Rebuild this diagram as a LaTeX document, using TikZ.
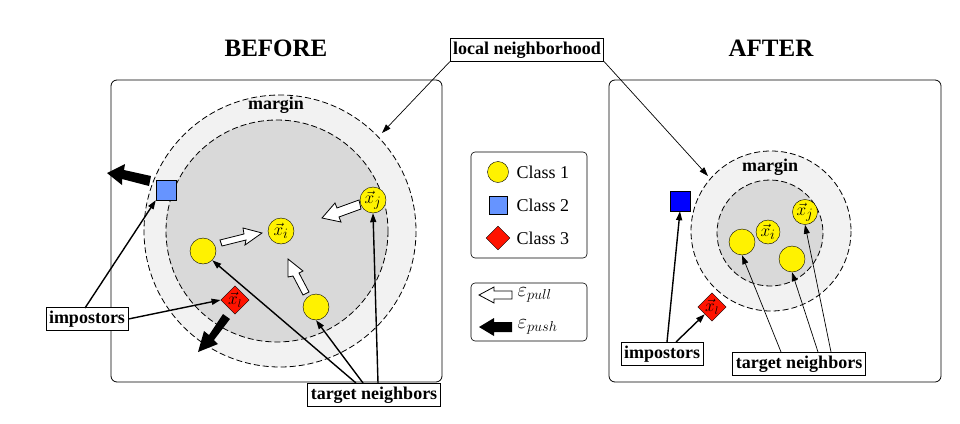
\documentclass[tikz,border=0pt]{standalone}
\usepackage{fontspec}
\setmainfont{Liberation Serif}
\usetikzlibrary{arrows.meta,shapes.geometric}
\begin{document}
\begin{tikzpicture}[x=1pt,y=-1pt,
 lbl/.style={draw,fill=white,font=\fontsize{18}{20}\selectfont\bfseries,inner sep=3pt,line width=0.8pt},
 pt/.style={circle,draw,fill=yellow,minimum size=26pt,inner sep=0pt,font=\fontsize{19}{20}\selectfont},
 sq/.style={draw,fill=blue!70!cyan!60!white,minimum size=20pt,inner sep=0pt},
 sqb/.style={draw,fill=blue,minimum size=20pt,inner sep=0pt},
 dia/.style={diamond,draw,fill=red!85!orange,minimum size=26pt,inner sep=0pt,font=\fontsize{16}{17}\selectfont},
 ptr/.style={-{Triangle[length=9pt,width=6pt]},line width=1.4pt},
 thin/.style={-{Triangle[length=9pt,width=6pt]},line width=0.7pt},
 pull/.style={draw,fill=white,line width=0.8pt},
 push/.style={fill=black},
 dsh/.style={dash pattern=on 6pt off 3pt,line width=0.8pt}]
\useasboundingbox (0,0) rectangle (960,423);
% titles
\node[font=\fontsize{25}{28}\selectfont\bfseries] (tb) at (276,48) {BEFORE};
\node[font=\fontsize{25}{28}\selectfont\bfseries] (ta) at (771,48) {AFTER};
% frames
\draw[rounded corners=6pt,line width=0.8pt] (111,80) rectangle (442,382);
\draw[rounded corners=6pt,line width=0.8pt] (609,80) rectangle (941,382);
% left circles
\draw[dsh,fill=gray!10] (280,231) circle (136);
\draw[dsh,fill=gray!30] (277,231) circle (111);
\node[font=\fontsize{18}{20}\selectfont\bfseries] (m1) at (276,105) {margin};
% right circles
\draw[dsh,fill=gray!10] (771,231) circle (80);
\draw[dsh,fill=gray!30] (770,233) circle (53);
\node[font=\fontsize{18}{20}\selectfont\bfseries] (m2) at (770,167) {margin};
% left points
\node[sq] (bq) at (166,190) {};
\node[pt] (xj) at (373,200) {$\vec{x}_j$};
\node[pt] (xi) at (281,231) {$\vec{x}_i$};
\node[pt] (ya) at (203,251) {};
\node[pt] (yb) at (316,307) {};
\node[dia] (rd) at (235,300) {$\vec{x}_l$};
% push arrows
\fill[push] (151,176) -- (124,170) -- (125,164) -- (107,173) -- (122,185) -- (122,179) -- (149,186) -- cycle;
\fill[push] (223,314) -- (209,335) -- (204,331) -- (198,352) -- (218,344) -- (214,340) -- (230,319) -- cycle;
% pull arrows
\draw[pull] (222,246) -- (246,240) -- (245,245) -- (262,233) -- (243,228) -- (244,234) -- (220,240) -- cycle;
\draw[pull] (309,292) -- (299,273) -- (303,271) -- (288,259) -- (288,277) -- (293,276) -- (303,295) -- cycle;
\draw[pull] (359,200) -- (337,208) -- (335,203) -- (322,218) -- (341,222) -- (339,217) -- (361,209) -- cycle;
% labels
\node[lbl] (imp1) at (87,319) {impostors};
\node[lbl] (tn1) at (374,395) {target neighbors};
\node[lbl] (ln) at (527,50) {local neighborhood};
\draw[ptr] (85,308) -- (bq.south west);
\draw[ptr] (imp1.east) -- (rd.west);
\draw[ptr] (356,383) -- (ya.south east);
\draw[ptr] (363,383) -- (yb.south);
\draw[ptr] (378,383) -- (xj.south);
\draw[thin] (ln.south west) -- (382,133);
\draw[thin] (ln.south east) -- (708,176);
% legend
\draw[rounded corners=4pt,line width=0.6pt] (471,152) rectangle (587,258);
\node[circle,draw,fill=yellow,minimum size=21pt,inner sep=0pt] (l1) at (498,172) {};
\node[anchor=west,font=\fontsize{18}{20}\selectfont] (t1) at (513,172) {Class 1};
\node[sq,minimum size=18pt] (l2) at (498,205) {};
\node[anchor=west,font=\fontsize{18}{20}\selectfont] (t2) at (513,205) {Class 2};
\node[dia,minimum size=24pt] (l3) at (498,238) {};
\node[anchor=west,font=\fontsize{18}{20}\selectfont] (t3) at (513,238) {Class 3};
\draw[rounded corners=4pt,line width=0.6pt] (471,283) rectangle (587,341);
\draw[pull] (512,291) -- (494,291) -- (494,287) -- (479,295) -- (494,303) -- (494,299) -- (512,299) -- cycle;
\fill[push] (512,322) -- (494,322) -- (494,318) -- (479,327) -- (494,336) -- (494,332) -- (512,332) -- cycle;
\node[anchor=west,font=\fontsize{22}{24}\selectfont] (ep) at (514,295) {$\varepsilon_{pull}$};
\node[anchor=west,font=\fontsize{22}{24}\selectfont] (es) at (514,327) {$\varepsilon_{push}$};
% right points
\node[sqb] (bq2) at (680,201) {};
\node[dia] (rd2) at (712,307) {$\vec{x}_l$};
\node[pt,minimum size=24pt] (xi2) at (768,232) {$\vec{x}_i$};
\node[pt,minimum size=24pt] (xj2) at (805,212) {$\vec{x}_j$};
\node[pt] (ya2) at (742,242) {};
\node[pt] (yb2) at (792,259) {};
\node[lbl] (imp2) at (662,354) {impostors};
\node[lbl] (tn2) at (799,364) {target neighbors};
\draw[ptr] (667,342) -- (bq2.south);
\draw[ptr] (676,342) -- (rd2.south west);
\draw[thin] (781,352) -- (ya2.south);
\draw[thin] (818,352) -- (yb2.south);
\draw[thin] (831,352) -- (xj2.south);
\end{tikzpicture}
\end{document}
